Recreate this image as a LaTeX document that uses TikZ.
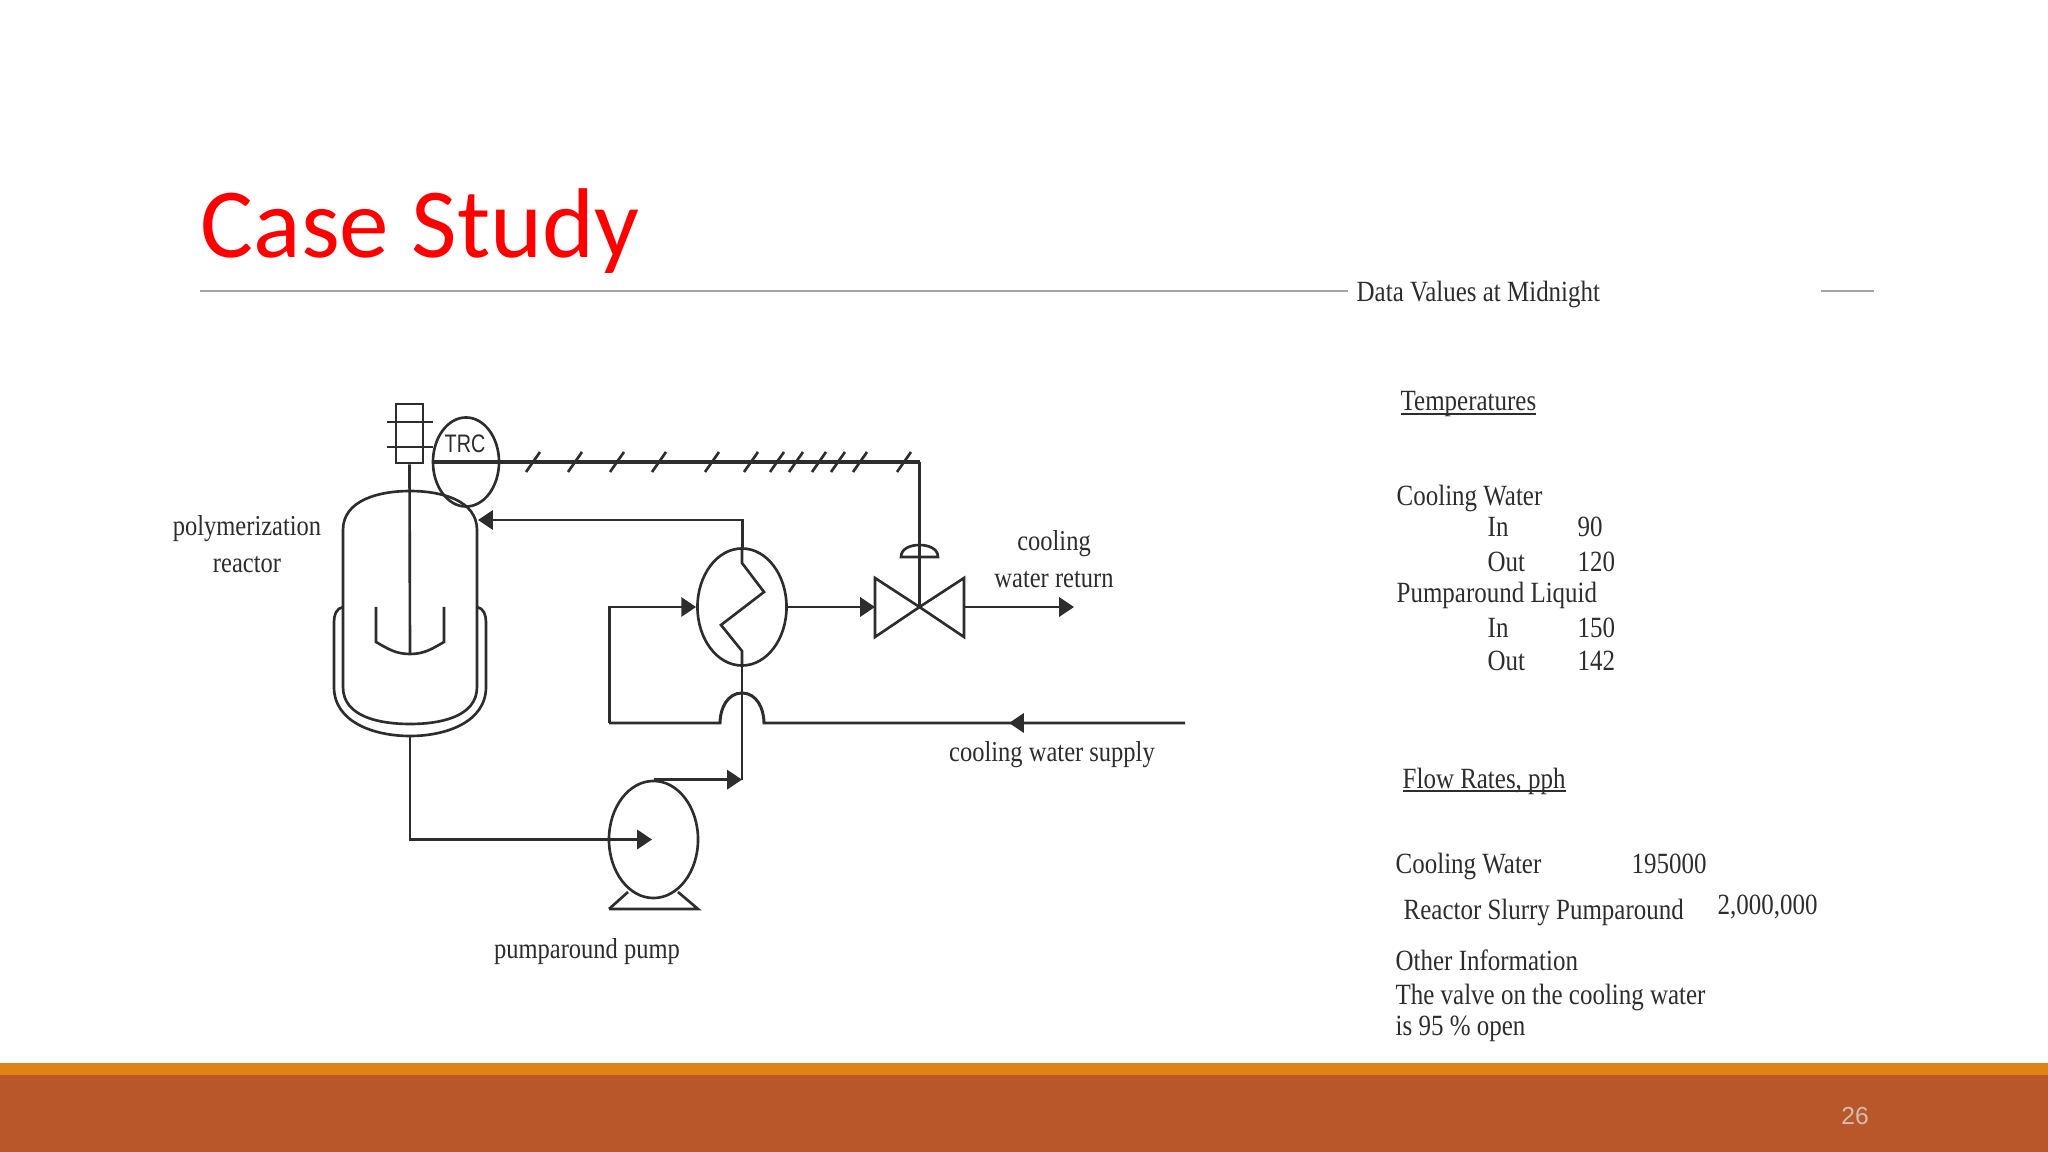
\documentclass[tikz,border=0pt]{standalone}
\usepackage{fontspec}
\setmainfont[FakeStretch=0.85]{Liberation Serif}
\newfontfamily\titlefont{Carlito}
\newfontfamily\pagefont{Liberation Sans}
\newfontfamily\trcfont[FakeStretch=0.78]{Liberation Sans}
\usetikzlibrary{arrows.meta,shapes.geometric}
\definecolor{titlered}{RGB}{255,0,0}
\definecolor{barorange}{RGB}{225,131,20}
\definecolor{barrust}{RGB}{186,87,42}
\definecolor{rulegray}{RGB}{165,165,165}
\definecolor{inkgray}{RGB}{45,45,45}
\definecolor{pagegray}{RGB}{208,190,176}
\newcommand{\ulbl}[1]{\setbox0\hbox{#1}\rlap{\rule[-1pt]{\wd0}{0.55pt}}#1}
\tikzset{
    line/.style={draw=inkgray,line width=0.75pt},
    pipe/.style={draw=inkgray,line width=0.85pt,-{Triangle[length=4.2pt,width=5.4pt]}},
    vessel/.style={ellipse,draw=inkgray,line width=0.75pt,inner sep=0pt},
    lbl/.style={font=\fontsize{8.2}{10.5}\selectfont,text=inkgray,inner sep=0pt},
    data/.style={font=\fontsize{8.35}{11}\selectfont,text=inkgray,inner sep=0pt,anchor=base west},
}
\begin{document}
\begin{tikzpicture}[x=0.01cm,y=-0.01cm]
    \useasboundingbox (0,0) rectangle (2048,1152);
    \fill[white] (0,0) rectangle (2048,1152);
    \fill[barrust] (0,1075) rectangle (2048,1152);
    \fill[barorange] (0,1063) rectangle (2048,1075);
    \node[font=\fontsize{28.2}{32}\titlefont\selectfont,text=titlered,anchor=base west,inner sep=0pt] (title) at (200,258) {Case Study};
    \node[font=\fontsize{7}{8}\pagefont\selectfont,text=pagegray] (page) at (1855,1116) {26};
    \coordinate (ruleA) at (200,291);
    \coordinate (ruleB) at (1348,291);
    \coordinate (ruleC) at (1821,291);
    \coordinate (ruleD) at (1874,291);
    \draw[rulegray,line width=0.5pt] (ruleA) -- (ruleB);
    \draw[rulegray,line width=0.5pt] (ruleC) -- (ruleD);
    % reactor
    \draw[line] (343,530) to[out=90,in=180] (410,491) to[out=0,in=90] (477,530) -- (477,687) to[out=-90,in=0] (410,724) to[out=180,in=-90] (343,687) -- cycle;
    \draw[line] (343,607) to[out=-170,in=90] (334,622) -- (334,687) to[out=-90,in=180] (410,736) to[out=0,in=-90] (486,687) -- (486,622) to[out=90,in=-10] (477,607);
    \draw[line] (376,607) -- (376,642) to[out=-30,in=180] (410,654) to[out=0,in=-150] (444,642) -- (444,607);
    \node[draw=inkgray,line width=0.75pt,minimum width=0.27cm,minimum height=0.59cm,inner sep=0pt] (motor) at (409.5,433.5) {};
    \draw[line] (387,422) -- (433,422);
    \draw[line] (387,447) -- (433,447);
    \draw[line] (motor.south) -- (410,653);
    % controller and exchanger
    \node[vessel,minimum width=0.66cm,minimum height=0.89cm] (TRC) at (466,462) {};
    \node[font=\fontsize{7.2}{8}\trcfont\selectfont,text=inkgray,inner sep=0pt] (TRClabel) at (465,444) {TRC};
    \node[vessel,minimum width=0.89cm,minimum height=1.17cm] (HX) at (742,607) {};
    \node[vessel,minimum width=0.89cm,minimum height=1.17cm] (pump) at (653.5,839.5) {};
    \draw[line] (609,909) -- (698,909) -- (678,892);
    \draw[line] (609,909) -- (628,892);
    \draw[line] (HX.north) -- (742,563) -- (764,592) -- (721,625) -- (742,651) -- (HX.south);
    % valve
    \coordinate (valve) at (919.5,607);
    \coordinate (valveL) at (875,607);
    \coordinate (valveR) at (964,607);
    \draw[line] (valve) -- (875,578) -- (875,637) -- cycle;
    \draw[line] (valve) -- (964,578) -- (964,637) -- cycle;
    \draw[line] (901,557) to[out=90,in=180] (919.5,545) to[out=0,in=90] (938,557) -- cycle;
    \coordinate (sigEnd) at (919.5,462);
    \draw[line,line width=1pt] (TRC.west) -- (sigEnd);
    \draw[line] (sigEnd) -- (valve);
    \foreach \x in {533,575,617,659,712,751,777,796,819,838,860,904}
        \draw[line] (\x-7,472) -- (\x+7,452);
    % piping
    \coordinate (retEnd) at (1074,607);
    \coordinate (supplyEnd) at (1185,723);
    \coordinate (inletCorner) at (609,723);
    \coordinate (pumpOut) at (pump.north -| HX.south);
    \coordinate (pumpIn) at (652,839.5);
    \draw[pipe] (HX.east) -- (valveL);
    \draw[pipe] (valveR) -- (retEnd);
    \draw[pipe] (HX.north) -- (742,520) -- (478,520);
    \draw[pipe] (inletCorner) -- (609,607) -- (HX.west);
    \draw[line,line width=0.85pt] (inletCorner) -- (720,723) to[out=90,in=180] (742,693) to[out=0,in=90] (764,723) -- (supplyEnd);
    \draw[pipe] (supplyEnd) -- (1009,723);
    \draw[line] (HX.south) -- (pumpOut);
    \draw[pipe] (pump.north) -- (pumpOut);
    \draw[pipe] (410,736) -- (410,839.5) -- (pumpIn);
    % labels
    \node[lbl,align=center] (polyLabel) at (247,544) {polymerization\\reactor};
    \node[lbl,align=center] (returnLabel) at (1054,559) {cooling\\water return};
    \node[lbl] (supplyLabel) at (1052,755) {cooling water supply};
    \node[lbl] (pumpLabel) at (587,952) {pumparound pump};
    % data values
    \node[data] (midnight) at (1356,302) {Data Values at Midnight};
    \node[data] (temps) at (1400,411) {\ulbl{Temperatures}};
    \node[data] (cw) at (1396,506) {Cooling Water};
    \node[data] (cwIn) at (1487,537) {In};
    \node[data] (cwInV) at (1577,537) {90};
    \node[data] (cwOut) at (1487,571) {Out};
    \node[data] (cwOutV) at (1577,571) {120};
    \node[data] (pl) at (1396,603) {Pumparound Liquid};
    \node[data] (plIn) at (1487,637) {In};
    \node[data] (plInV) at (1577,637) {150};
    \node[data] (plOut) at (1487,670) {Out};
    \node[data] (plOutV) at (1577,670) {142};
    \node[data] (flow) at (1402,788) {\ulbl{Flow Rates, pph}};
    \node[data] (cwFlow) at (1395,873) {Cooling Water};
    \node[data] (cwFlowV) at (1631,873) {195000};
    \node[data] (slurry) at (1403,919) {Reactor Slurry Pumparound};
    \node[data] (slurryV) at (1717,914) {2,000,000};
    \node[data] (other) at (1395,970) {Other Information};
    \node[data] (note) at (1395,1004) {The valve on the cooling water};
    \node[data] (noteB) at (1395,1035) {is 95 \% open};
\end{tikzpicture}
\end{document}
